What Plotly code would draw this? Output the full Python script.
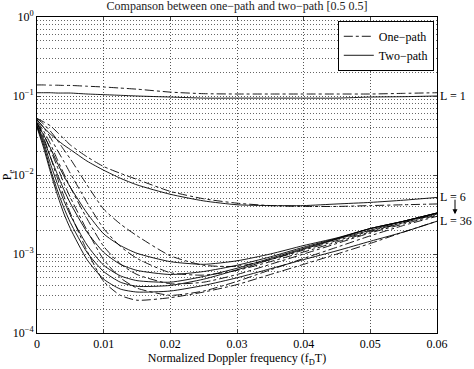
import numpy as np
import plotly.graph_objects as go

fD = [0, 0.001, 0.002, 0.003, 0.004, 0.005, 0.0075, 0.01, 0.0125, 0.015,
      0.02, 0.025, 0.03, 0.035, 0.04, 0.045, 0.05, 0.055, 0.06]

L_values = [1, 6, 12, 18, 24, 30, 36]

one_path = {
    1:  [0.138, 0.138, 0.137, 0.137, 0.136, 0.136, 0.133, 0.130, 0.126, 0.122,
         0.112, 0.107, 0.106, 0.106, 0.106, 0.106, 0.106, 0.108, 0.110],
    6:  [0.052, 0.047, 0.042, 0.035, 0.029, 0.024, 0.017, 0.0128, 0.0105, 0.0088,
         0.0062, 0.0050, 0.0044, 0.0041, 0.0040, 0.0040, 0.0041, 0.0042, 0.0043],
    12: [0.052, 0.044, 0.036, 0.028, 0.021, 0.016, 0.0075, 0.0037, 0.0024, 0.0017,
         0.00095, 0.00072, 0.00070, 0.00085, 0.00112, 0.00148, 0.00195, 0.0025, 0.0032],
    18: [0.050, 0.040, 0.030, 0.021, 0.015, 0.0105, 0.0045, 0.0021, 0.00125, 0.00088,
         0.00058, 0.00054, 0.00062, 0.00080, 0.00106, 0.00142, 0.00190, 0.0025, 0.0032],
    24: [0.048, 0.036, 0.025, 0.016, 0.0105, 0.0070, 0.0028, 0.00125, 0.00075, 0.00055,
         0.00042, 0.00044, 0.00055, 0.00074, 0.00100, 0.00136, 0.00185, 0.0024, 0.0031],
    30: [0.046, 0.033, 0.021, 0.013, 0.0080, 0.0052, 0.0020, 0.00085, 0.00050, 0.00037,
         0.00030, 0.00034, 0.00045, 0.00063, 0.00088, 0.00122, 0.00170, 0.0023, 0.0030],
    36: [0.045, 0.030, 0.017, 0.0095, 0.0055, 0.0033, 0.0011, 0.00045, 0.00030, 0.00026,
         0.00028, 0.00033, 0.00041, 0.00055, 0.00074, 0.00100, 0.00136, 0.0019, 0.0026],
}

two_path = {
    1:  [0.110, 0.110, 0.110, 0.109, 0.109, 0.109, 0.106, 0.104, 0.102, 0.100,
         0.097, 0.094, 0.094, 0.094, 0.094, 0.094, 0.097, 0.098, 0.100],
    6:  [0.050, 0.040, 0.033, 0.028, 0.024, 0.021, 0.015, 0.0115, 0.0091, 0.0075,
         0.0057, 0.0047, 0.0042, 0.0041, 0.0041, 0.0043, 0.0045, 0.0048, 0.0052],
    12: [0.045, 0.032, 0.022, 0.0145, 0.0098, 0.0070, 0.0033, 0.0018, 0.00128, 0.00102,
         0.00080, 0.00074, 0.00082, 0.00100, 0.00128, 0.0016, 0.0021, 0.0026, 0.0033],
    18: [0.043, 0.028, 0.017, 0.0105, 0.0066, 0.0044, 0.0019, 0.00105, 0.00074, 0.00062,
         0.00055, 0.00060, 0.00072, 0.00092, 0.00122, 0.00158, 0.0021, 0.0026, 0.0033],
    24: [0.042, 0.026, 0.014, 0.0080, 0.0048, 0.0031, 0.0013, 0.00072, 0.00053, 0.00046,
         0.00044, 0.00052, 0.00066, 0.00088, 0.00118, 0.00156, 0.0021, 0.0026, 0.0033],
    30: [0.041, 0.024, 0.012, 0.0066, 0.0039, 0.0025, 0.00105, 0.00060, 0.00044, 0.00039,
         0.00040, 0.00048, 0.00063, 0.00085, 0.00115, 0.00154, 0.0020, 0.0026, 0.0033],
    36: [0.040, 0.022, 0.011, 0.0058, 0.0033, 0.0021, 0.00085, 0.00048, 0.00036, 0.00033,
         0.00034, 0.00040, 0.00050, 0.00065, 0.00085, 0.0011, 0.00145, 0.0019, 0.0026],
}

x_ticks = [0, 0.01, 0.02, 0.03, 0.04, 0.05, 0.06]
x_ticktext = ["0", "0.01", "0.02", "0.03", "0.04", "0.05", "0.06"]
y_ticks = [1e-4, 1e-3, 1e-2, 1e-1, 1]
y_ticktext = ["10<sup>−4</sup>", "10<sup>−3</sup>", "10<sup>−2</sup>", "10<sup>−1</sup>", "10<sup>0</sup>"]

label_L1, label_L6, label_L36 = 0.100, 0.0052, 0.0026

FONT = "Liberation Serif"

fig = go.Figure()
for i, L in enumerate(L_values):
    fig.add_trace(go.Scatter(
        x=fD, y=one_path[L], mode="lines", name="One−path",
        line=dict(color="black", width=0.9, dash="dashdot", shape="spline", smoothing=0.6),
        legendgroup="one", showlegend=(i == 0)))
for i, L in enumerate(L_values):
    fig.add_trace(go.Scatter(
        x=fD, y=two_path[L], mode="lines", name="Two−path",
        line=dict(color="black", width=0.9, shape="spline", smoothing=0.6),
        legendgroup="two", showlegend=(i == 0)))

grid = dict(showgrid=True, gridcolor="#555", griddash="1px,2px", gridwidth=1)

fig.update_layout(
    width=474, height=369,
    margin=dict(l=37, r=37, t=17, b=36),
    paper_bgcolor="white", plot_bgcolor="white",
    font=dict(family=FONT, size=12, color="black"),
    title=dict(text="Companson between one−path and two−path [0.5 0.5]",
               x=0.5, xanchor="center", y=0.995, yanchor="top",
               font=dict(family=FONT, size=12, color="#222")),
    xaxis=dict(range=[0, 0.06], tickvals=x_ticks, ticktext=x_ticktext, automargin=False,
               ticks="inside", ticklen=4, showline=True, linecolor="black", linewidth=1,
               mirror="ticks", zeroline=False, tickfont=dict(family=FONT, size=12),
               title=dict(text="Normalized Doppler frequency (f<sub>D</sub>T)", standoff=2,
                          font=dict(family=FONT, size=12)),
               **grid),
    yaxis=dict(type="log", range=[-4, 0], tickvals=y_ticks, ticktext=y_ticktext, automargin=False,
               ticks="inside", ticklen=4, showline=True, linecolor="black", linewidth=1,
               mirror="ticks", zeroline=False, tickfont=dict(family=FONT, size=12),
               title=dict(text="P<sub>e</sub>", standoff=0, font=dict(family=FONT, size=12)),
               minor=dict(dtick="D1", showgrid=True, gridcolor="#666", griddash="1px,2px",
                          gridwidth=1, ticks=""),
               **grid),
    legend=dict(x=0.992, y=0.988, xanchor="right", yanchor="top",
                bgcolor="white", bordercolor="black", borderwidth=1,
                font=dict(family=FONT, size=12), tracegroupgap=0,
                itemwidth=30),
    showlegend=True,
)

fig.add_annotation(x=1.0, xref="paper", y=np.log10(label_L1), yref="y", text="L = 1",
                   showarrow=False, xanchor="left", xshift=1, font=dict(size=12, family=FONT))
fig.add_annotation(x=1.0, xref="paper", y=np.log10(label_L6), yref="y", text="L = 6",
                   showarrow=False, xanchor="left", xshift=1, font=dict(size=12, family=FONT))
fig.add_annotation(x=1.0, xref="paper", y=np.log10(label_L36), yref="y", text="L = 36",
                   showarrow=False, xanchor="left", xshift=1, font=dict(size=12, family=FONT))
fig.add_annotation(x=1.0, xref="paper", y=np.log10(label_L36), yref="y", text="",
                   xshift=18, yshift=7, showarrow=True, arrowhead=2, arrowsize=1,
                   arrowwidth=1, arrowcolor="black", ax=0, ay=-16)

fig.write_html("out.html", config={"displayModeBar": False},
               post_script="document.body.style.margin='0';")
